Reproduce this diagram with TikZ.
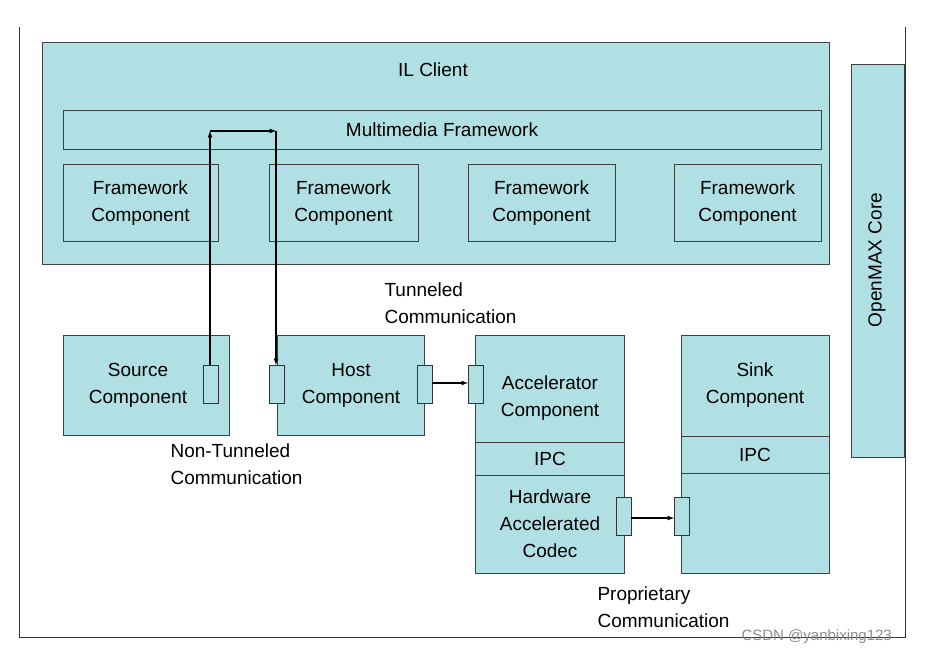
\documentclass[tikz,border=0pt]{standalone}
\usepackage{fontspec}
\setmainfont{Liberation Sans}
\begin{document}
\begin{tikzpicture}[x=1pt,y=-1pt,
  box/.style={draw=black!75,fill=cyanbg,line width=0.9pt},
  port/.style={draw=black!80,fill=cyanbg,line width=0.9pt},
  lbl/.style={font=\fontsize{19}{27}\selectfont,align=center},
  arr/.style={-latex,line width=1.2pt}]
\definecolor{cyanbg}{HTML}{B0E0E3}
\useasboundingbox (0,0) rectangle (926,655);
\draw[line width=0.8pt,black!80] (19,27) -- (19,637) -- (905,637) -- (905,27);
\draw[box] (42,42) rectangle (829,264);
\node[lbl] (il) at (433,70) {IL Client};
\draw[box] (63,110) rectangle (821,149);
\node[lbl] (mf) at (442,130) {Multimedia Framework};
\foreach \a/\b/\n in {63/218/1,269/418/2,468/615/3,674/821/4}{
  \draw[box] (\a,164) rectangle (\b,241);
  \node[lbl] (fc\n) at ({(\a+\b)/2},203) {Framework\\Component};}
\draw[box] (851,64) rectangle (904,457);
\node[lbl,rotate=90] (core) at (877,260) {OpenMAX Core};
% source
\draw[box] (63,335) rectangle (229,435);
\node[lbl] (src) at (138,385) {Source\\Component};
\draw[port] (203,365) rectangle (218,403);
\coordinate (sp) at (210,365);
% host
\draw[box] (277,335) rectangle (424,435);
\node[lbl] (host) at (351,385) {Host\\Component};
\draw[port] (269,365) rectangle (284,403);
\draw[port] (417,365) rectangle (432,403);
\coordinate (hpl) at (276,365);
\coordinate (hpr) at (432,383);
% accelerator
\draw[box] (475,335) rectangle (624,573);
\draw[black!75,line width=0.9pt] (475,442) -- (624,442) (475,475) -- (624,475);
\node[lbl] (acc) at (550,398) {Accelerator\\Component};
\node[lbl] (ipc1) at (550,459) {IPC};
\node[lbl] (hw) at (550,524) {Hardware\\Accelerated\\Codec};
\draw[port] (468,365) rectangle (483,403);
\coordinate (apl) at (468,383);
\draw[port] (616,497) rectangle (631,535);
\coordinate (hwp) at (631,518);
% sink
\draw[box] (681,335) rectangle (829,573);
\draw[black!75,line width=0.9pt] (681,436) -- (829,436) (681,473) -- (829,473);
\node[lbl] (sink) at (755,385) {Sink\\Component};
\node[lbl] (ipc2) at (755,455) {IPC};
\draw[port] (674,497) rectangle (689,535);
\coordinate (skp) at (674,518);
% arrows
\coordinate (c1) at (210,131);
\coordinate (c2) at (276,131);
\draw[arr] (sp) -- (c1);
\draw[arr] (c1) -- (c2);
\draw[arr] (c2) -- (hpl);
\draw[arr] (hpr) -- (apl);
\draw[arr] (hwp) -- (skp);
% labels
\node[lbl,align=left,anchor=north west] (tun) at (381,279) {Tunneled\\Communication};
\node[lbl,align=left,anchor=north west] (ntun) at (167,440) {Non-Tunneled\\Communication};
\node[lbl,align=left,anchor=north west] (prop) at (594,583) {Proprietary\\Communication};
\node[font=\fontsize{15}{17}\selectfont,text=black!45,anchor=west] (wm) at (738,637) {CSDN @yanbixing123};
\end{tikzpicture}
\end{document}
